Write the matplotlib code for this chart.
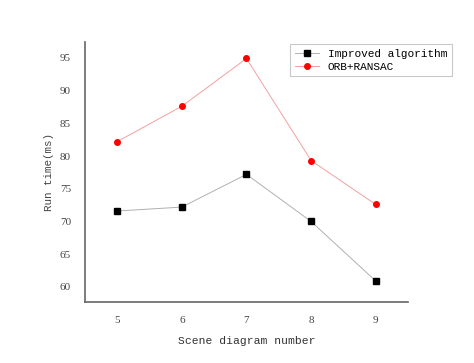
import matplotlib.pyplot as plt

# run time per scene
scenes = [5, 6, 7, 8, 9]
improved = [71.6, 72.2, 77.2, 70.0, 60.9]
orb_ransac = [82.2, 87.6, 94.9, 79.3, 72.6]

plt.rcParams['font.family'] = ['Liberation Serif', 'DejaVu Serif']
mono = ['Liberation Mono', 'DejaVu Sans Mono']

fig = plt.figure(figsize=(4.74, 3.63), dpi=100)
ax = fig.add_axes([0.179, 0.168, 0.682, 0.716])

ax.plot(scenes, improved, color='#b0b0b0', lw=0.7, marker='s', ms=4,
        mfc='black', mec='black', label='Improved algorithm')
ax.plot(scenes, orb_ransac, color='#f4a0a0', lw=0.7, marker='o', ms=4,
        mfc='red', mec='red', label='ORB+RANSAC')

ax.set_xlim(4.5, 9.5)
ax.set_ylim(57.7, 97.4)
ax.set_xticks(scenes)
ax.set_yticks([60, 65, 70, 75, 80, 85, 90, 95])
ax.tick_params(length=0, labelsize=8, colors='#444444', pad=10)
ax.spines['top'].set_visible(False)
ax.spines['right'].set_visible(False)
for s in ['left', 'bottom']:
    ax.spines[s].set_color('#666666')
    ax.spines[s].set_linewidth(1.2)

ax.set_xlabel('Scene diagram number', fontsize=8.2, color='#333333', family=mono, labelpad=8)
ax.set_ylabel('Run time(ms)', fontsize=7.8, color='#444444', family=mono)

leg = ax.legend(loc='upper left', bbox_to_anchor=(0.612, 0.878), bbox_transform=fig.transFigure,
                prop={'family': mono, 'size': 8}, frameon=True, fancybox=False, borderpad=0.4,
                handlelength=2.2, labelspacing=0.25, borderaxespad=0)
leg.get_frame().set_edgecolor('#bbbbbb')
leg.get_frame().set_linewidth(0.8)

fig.savefig('out.png', dpi=100)
